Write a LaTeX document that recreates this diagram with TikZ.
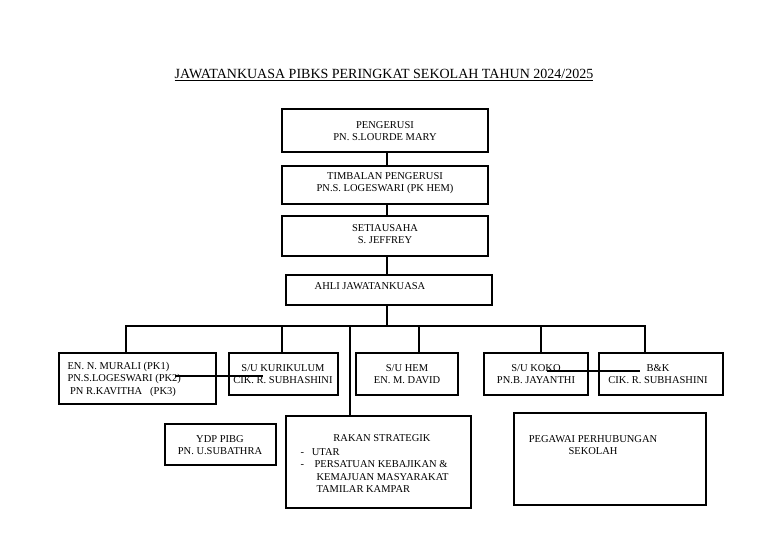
\documentclass[tikz,border=0pt]{standalone}
\usepackage{fontspec}
\setmainfont{Liberation Serif}
\begin{document}
\begin{tikzpicture}[x=1pt,y=-1pt,
 bx/.style={draw,line width=1.6pt},
 ln/.style={line width=2.2pt},
 t/.style={font=\fontsize{10.5}{12}\selectfont,align=center}]
\useasboundingbox (0,0) rectangle (768,543);
\node[font=\fontsize{14}{16}\selectfont] (title) at (384,75) {\underline{JAWATANKUASA PIBKS PERINGKAT SEKOLAH TAHUN 2024/2025}};
\draw[bx] (282,109) rectangle (488,152) coordinate (p2); \coordinate (p1) at (282,109);
\node[t] (peng) at (385,131) {PENGERUSI\\PN. S.LOURDE MARY};
\draw[bx] (282,166) rectangle (488,204);
\node[t] (timb) at (385,183) {TIMBALAN PENGERUSI\\PN.S. LOGESWARI (PK HEM)};
\draw[bx] (282,216) rectangle (488,256);
\node[t] (seti) at (385,234) {SETIAUSAHA\\S. JEFFREY};
\draw[bx] (286,275) rectangle (492,305);
\node[t] (ahli) at (370,286) {AHLI JAWATANKUASA};
\draw[ln] (387,152) -- (387,166) (387,204) -- (387,216) (387,256) -- (387,275);
\draw[ln] (387,305) -- (387,326);
\draw[ln] (126,353) -- (126,326) -- (645,326) -- (645,353);
\draw[ln] (282,326) -- (282,353) (419,326) -- (419,353) (541,326) -- (541,353);
\draw[ln] (350,326) -- (350,416);
\draw[bx] (59,353) rectangle (216,404);
\node[font=\fontsize{10.5}{12.5}\selectfont,align=left,anchor=west] (mur) at (64,379) {EN. N. MURALI (PK1)\\PN.S.LOGESWARI (PK2)\\\ PN R.KAVITHA\ \ \ (PK3)};
\draw[bx] (229,353) rectangle (338,395);
\node[t] (kur) at (283,374) {S/U KURIKULUM\\CIK. R. SUBHASHINI};
\draw[bx] (356,353) rectangle (458,395);
\node[t] (hem) at (407,374) {S/U HEM\\EN. M. DAVID};
\draw[bx] (484,353) rectangle (588,395);
\node[t] (koko) at (536,374) {S/U KOKO\\PN.B. JAYANTHI};
\draw[bx] (599,353) rectangle (723,395);
\node[t] (bk) at (658,374) {B\&K\\CIK. R. SUBHASHINI};
\draw[ln] (175,376) -- (263,376);
\draw[ln] (547,371) -- (640,371);
\draw[bx] (165,424) rectangle (276,465);
\node[t] (ydp) at (220,445) {YDP PIBG\\PN. U.SUBATHRA};
\draw[bx] (286,416) rectangle (471,508);
\node[t] (rak) at (382,438) {RAKAN STRATEGIK};
\node[font=\fontsize{10.5}{12.5}\selectfont,align=left,anchor=north west] (rakl) at (297,445) {-\ \ \ UTAR\\-\ \ \ \ PERSATUAN KEBAJIKAN \&\\\hspace{16pt}KEMAJUAN MASYARAKAT\\\hspace{16pt}TAMILAR KAMPAR};
\draw[bx] (514,413) rectangle (706,505);
\node[t] (peg) at (593,445) {PEGAWAI PERHUBUNGAN\\SEKOLAH};
\end{tikzpicture}
\end{document}
